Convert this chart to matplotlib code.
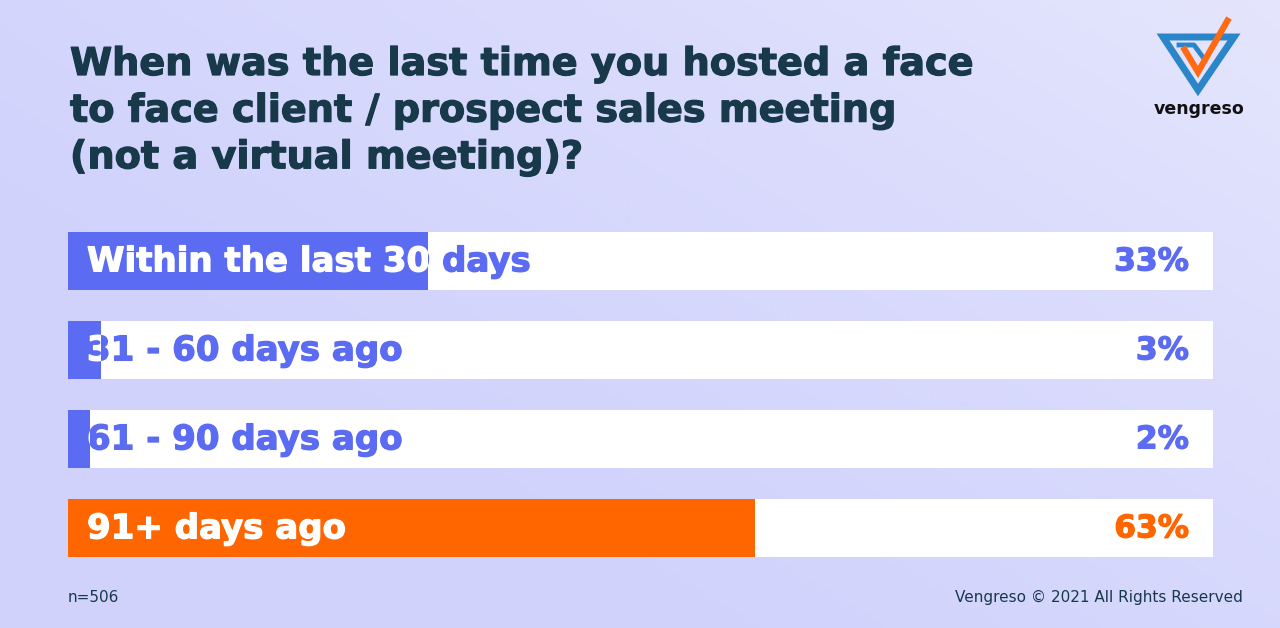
import numpy as np
import matplotlib
matplotlib.use("Agg")
import matplotlib.pyplot as plt
import matplotlib.patheffects as pe
from matplotlib.patches import Polygon
from matplotlib.transforms import Bbox, TransformedBbox

# data
categories = ["Within the last 30 days", "31 - 60 days ago", "61 - 90 days ago", "91+ days ago"]
values = [33, 3, 2, 63]
value_labels = ["33%", "3%", "2%", "63%"]
title = "When was the last time you hosted a face\nto face client / prospect sales meeting\n(not a virtual meeting)?"
sample_note = "n=506"
copyright_note = "Vengreso \u00a9 2021 All Rights Reserved"

BLUE = "#5c6cf2"
ORANGE = "#ff6600"
DARK = "#18394a"
bar_colors = [BLUE, BLUE, BLUE, ORANGE]
text_colors = [BLUE, BLUE, BLUE, ORANGE]

W, H = 1280, 628
fig = plt.figure(figsize=(W / 100, H / 100), dpi=100)

# background gradient
bg = fig.add_axes([0, 0, 1, 1])
bg.set_xlim(0, W)
bg.set_ylim(H, 0)
bg.axis("off")
gx, gy = np.meshgrid(np.linspace(0, 1, 256), np.linspace(0, 1, 128))
t = np.clip(0.55 * gx + 0.45 * (1 - gy) - 0.25, 0, 1) ** 1.3
c0 = np.array([0xd0, 0xd2, 0xfc]) / 255
c1 = np.array([0xee, 0xee, 0xfc]) / 255
img = c0[None, None, :] * (1 - t[..., None]) + c1[None, None, :] * t[..., None]
bg.imshow(img, extent=[0, W, H, 0], aspect="auto", zorder=0)

heavy = lambda c, w=0.9: [pe.withStroke(linewidth=w, foreground=c)]

# title
bg.text(70, 47, title, ha="left", va="top", fontsize=27.5, fontweight="bold",
        color=DARK, linespacing=1.38, path_effects=heavy(DARK))

# footer
bg.text(68, 597, sample_note, ha="left", va="center", fontsize=11, color=DARK)
bg.text(1243, 597, copyright_note, ha="right", va="center", fontsize=11, color=DARK)

# logo
logo_blue = "#2a86c8"
bg.add_patch(Polygon([[1163, 37], [1234, 37], [1198, 90]], closed=True, fill=False,
                     edgecolor=logo_blue, linewidth=5, joinstyle="miter", zorder=3))
bg.plot([1179, 1194, 1205], [45, 45, 60], color=logo_blue, lw=3.5, zorder=3)
bg.plot([1183, 1198, 1229], [47, 72, 18], color="#ff6a13", lw=4.5, zorder=4,
        solid_joinstyle="miter", solid_capstyle="butt")
bg.text(1199, 109, "vengreso", ha="center", va="center", fontsize=12.5,
        fontweight="bold", color="#111111")

# bars
ax = fig.add_axes([68 / W, (H - 557) / H, (1213 - 68) / W, 325 / H])
xmax = 105
ax.set_xlim(0, xmax)
pitch = 89
bh = 58 / pitch
ax.set_ylim(len(values) - 1 + bh / 2, -bh / 2)
ax.axis("off")
ypos = np.arange(len(values))
ax.barh(ypos, [xmax] * len(values), height=bh, color="white", zorder=1)
ax.barh(ypos, values, height=bh, color=bar_colors, zorder=2)

px = 1145 / xmax
for i, (lab, v, vl) in enumerate(zip(categories, values, value_labels)):
    y0, y1 = ypos[i] - bh / 2, ypos[i] + bh / 2
    inner = TransformedBbox(Bbox([[0, y0], [v, y1]]), ax.transData)
    outer = TransformedBbox(Bbox([[v, y0], [xmax, y1]]), ax.transData)
    for color, box in (("white", inner), (text_colors[i], outer)):
        tx = ax.text(19 / px, ypos[i] + 0.01, lab, ha="left", va="center", fontsize=24.5,
                     fontweight="bold", color=color, zorder=5,
                     path_effects=heavy(color))
        tx.set_clip_on(True)
        tx.set_clip_box(box)
    ax.text(xmax - 24 / px, ypos[i] + 0.01, vl, ha="right", va="center",
            fontsize=22.5, fontweight="bold", color=text_colors[i], zorder=5,
            path_effects=heavy(text_colors[i]))

fig.savefig("out.png", dpi=100)
